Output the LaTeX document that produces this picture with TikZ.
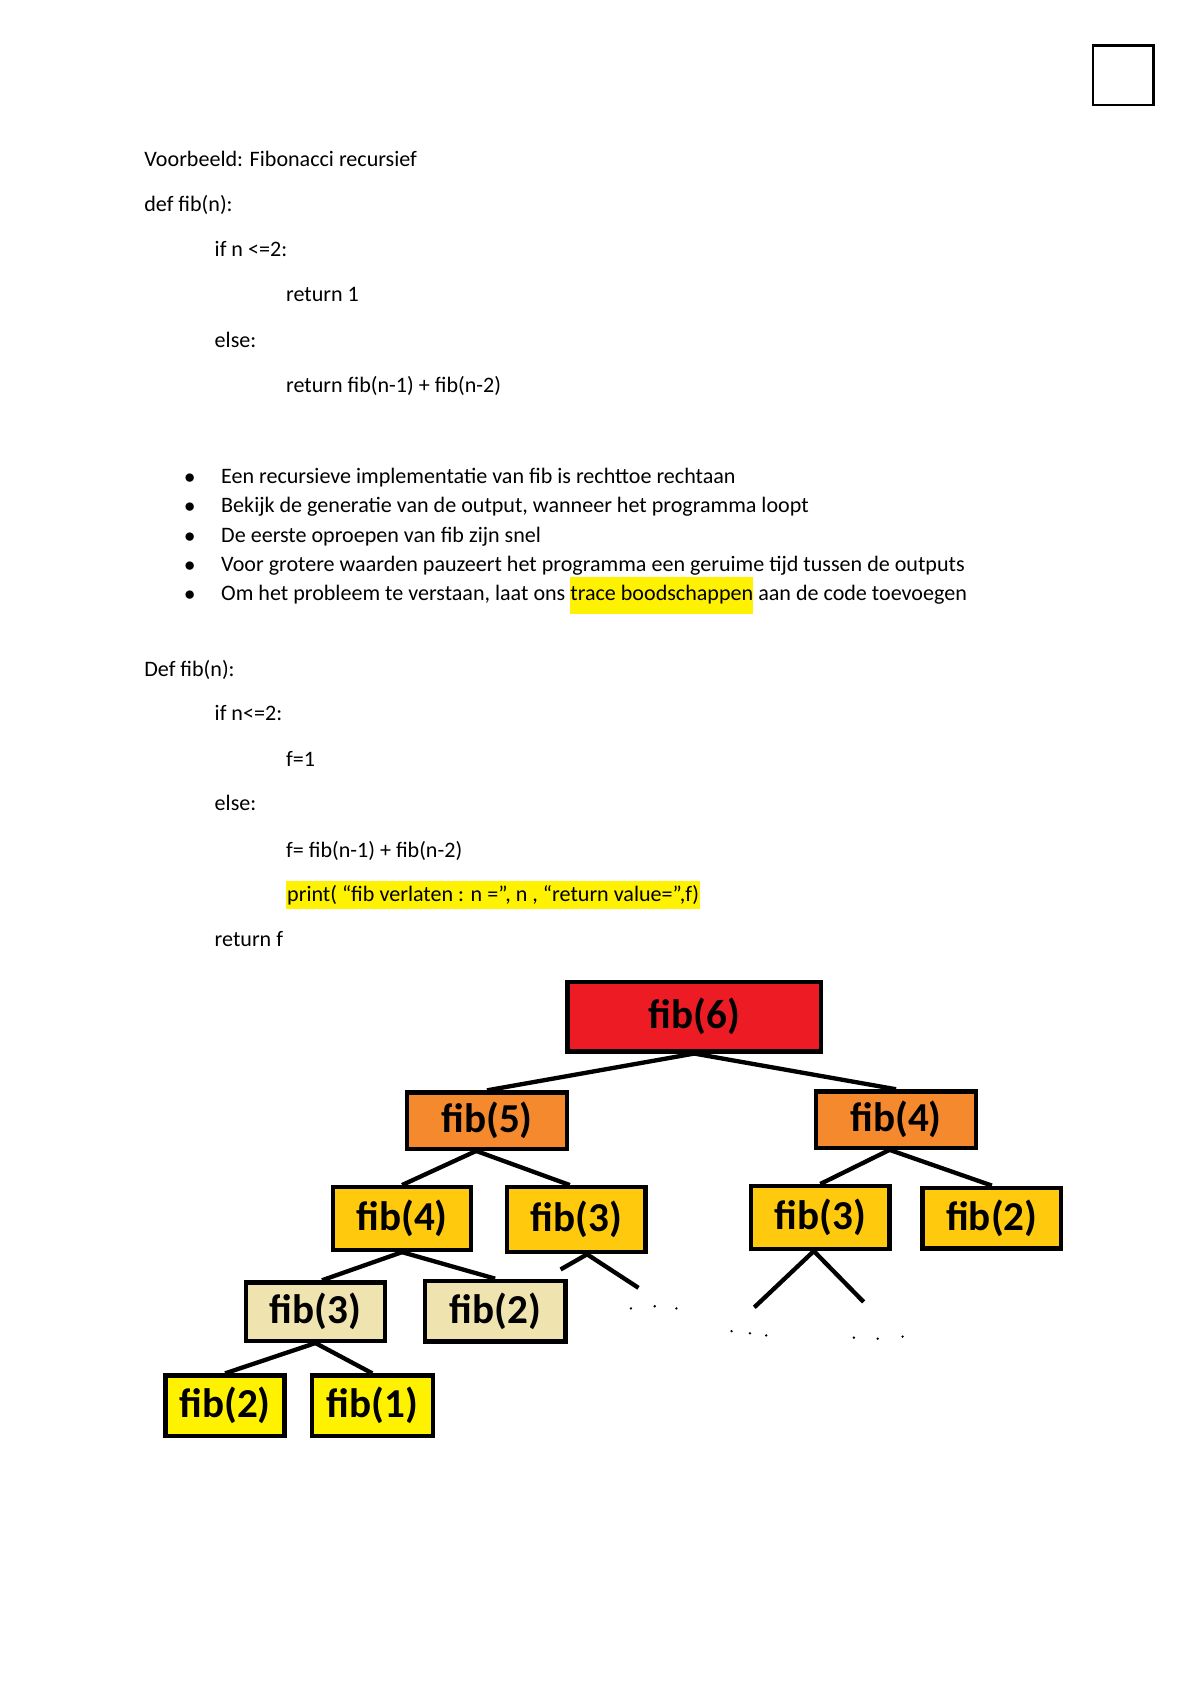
\documentclass[tikz,border=0pt]{standalone}
\usepackage{fontspec}
\setmainfont{Carlito}
\begin{document}
\begin{tikzpicture}[x=0.5pt,y=-0.5pt,
 txt/.style={anchor=base west,inner sep=0pt,font=\fontsize{10.2}{11}\selectfont},
 hl/.style={txt,fill=yellow,inner ysep=2pt,inner xsep=0.5pt},
 fb/.style={draw=black,line width=2pt,font=\fontsize{19}{21}\selectfont\bfseries,inner sep=0pt},
 ed/.style={line width=2pt}]
\useasboundingbox (0,0) rectangle (1109,1569);
\fill[white] (0,0) rectangle (1109,1569);
\draw[line width=1.2pt] (1010,42) rectangle (1066,97);
% text
\begin{scope}[yshift=-1.5pt]
\node[txt] (t1) at (133,151) {Voorbeeld: Fibonacci recursief};
\node[txt] (t2) at (133,192) {def fib(n):};
\node[txt] (t3) at (198,234) {if n <=2:};
\node[txt] (t4) at (264,276) {return 1};
\node[txt] (t5) at (198,318) {else:};
\node[txt] (t6) at (264,360) {return fib(n-1) + fib(n-2)};
\foreach \yy/\tt [count=\i] in {444/{Een recursieve implementatie van fib is rechttoe rechtaan},471/{Bekijk de generatie van de output, wanneer het programma loopt},498/{De eerste oproepen van fib zijn snel},525/{Voor grotere waarden pauzeert het programma een geruime tijd tussen de outputs}}{
 \node[txt] (bd\i) at (170,\yy) {$\bullet$};
 \node[txt] (b\i) at (204,\yy) {\tt};}
\node[txt] (bd5) at (170,552) {$\bullet$};
\node[txt] (b5) at (204,552) {Om het probleem te verstaan, laat ons \colorbox{yellow}{\hspace*{-\fboxsep}\strut trace boodschappen\hspace*{-\fboxsep}} aan de code toevoegen};
\node[txt] (u1) at (133,622) {Def fib(n):};
\node[txt] (u2) at (198,663) {if n<=2:};
\node[txt] (u3) at (264,705) {f=1};
\node[txt] (u4) at (198,746) {else:};
\node[txt] (u5) at (264,789) {f= fib(n-1) + fib(n-2)};
\node[hl] (u6) at (264,830) {print( “fib verlaten : n =”, n , “return value=”,f)};
\node[txt] (u7) at (198,872) {return f};
\end{scope}
% tree
\node[fb,fill={rgb,255:red,237;green,28;blue,36},minimum width=117pt,minimum height=32pt] (f6) at (641.5,939.5) {fib(6)};
\node[fb,fill={rgb,255:red,245;green,137;blue,46},minimum width=74pt,minimum height=26pt] (f5) at (450,1035.5) {fib(5)};
\node[fb,fill={rgb,255:red,245;green,137;blue,46},minimum width=74pt,minimum height=26pt] (f4r) at (828,1034.5) {fib(4)};
\node[fb,fill={rgb,255:red,255;green,201;blue,14},minimum width=64pt,minimum height=29pt] (f4l) at (371.5,1126) {fib(4)};
\node[fb,fill={rgb,255:red,255;green,201;blue,14},minimum width=64pt,minimum height=30pt] (f3m) at (532.5,1127) {fib(3)};
\node[fb,fill={rgb,255:red,255;green,201;blue,14},minimum width=64pt,minimum height=29pt] (f3r) at (758,1125) {fib(3)};
\node[fb,fill={rgb,255:red,255;green,201;blue,14},minimum width=64pt,minimum height=28pt] (f2r) at (916.5,1125.5) {fib(2)};
\node[fb,fill={rgb,255:red,239;green,228;blue,176},minimum width=64pt,minimum height=27pt] (f3l) at (291.5,1212) {fib(3)};
\node[fb,fill={rgb,255:red,239;green,228;blue,176},minimum width=65pt,minimum height=28pt] (f2l) at (457.5,1211.5) {fib(2)};
\node[fb,fill={rgb,255:red,255;green,242;blue,0},minimum width=55pt,minimum height=28pt] (f2b) at (208,1299) {fib(2)};
\node[fb,fill={rgb,255:red,255;green,242;blue,0},minimum width=56pt,minimum height=28pt] (f1b) at (344,1299) {fib(1)};
\draw[ed] (f6.south) -- (f5.north);
\draw[ed] (f6.south) -- (f4r.north);
\draw[ed] ([xshift=-5pt]f5.south) -- (f4l.north);
\draw[ed] ([xshift=-5pt]f5.south) -- ([xshift=-3pt]f3m.north);
\draw[ed] ([xshift=-3pt]f4r.south) -- (f3r.north);
\draw[ed] ([xshift=-3pt]f4r.south) -- (f2r.north);
\draw[ed] (f4l.south) -- ([xshift=3pt]f3l.north);
\draw[ed] (f4l.south) -- (f2l.north);
\draw[ed] (f3l.south) -- (f2b.north);
\draw[ed] (f3l.south) -- (f1b.north);
\coordinate (m1) at (518,1173); \coordinate (m2) at (590,1190);
\coordinate (r1) at (697,1208); \coordinate (r2) at (798,1203);
\draw[ed] ([xshift=5pt]f3m.south) -- (m1);
\draw[ed] ([xshift=5pt]f3m.south) -- (m2);
\draw[ed] ([xshift=-3pt]f3r.south) -- (r1);
\draw[ed] ([xshift=-3pt]f3r.south) -- (r2);
\foreach \px/\py in {583/1209,605/1207,625/1209,676/1230,693/1232,708/1234,789/1236,811/1237,834/1235}
 \fill (\px,\py) circle (0.6pt);
\end{tikzpicture}
\end{document}
